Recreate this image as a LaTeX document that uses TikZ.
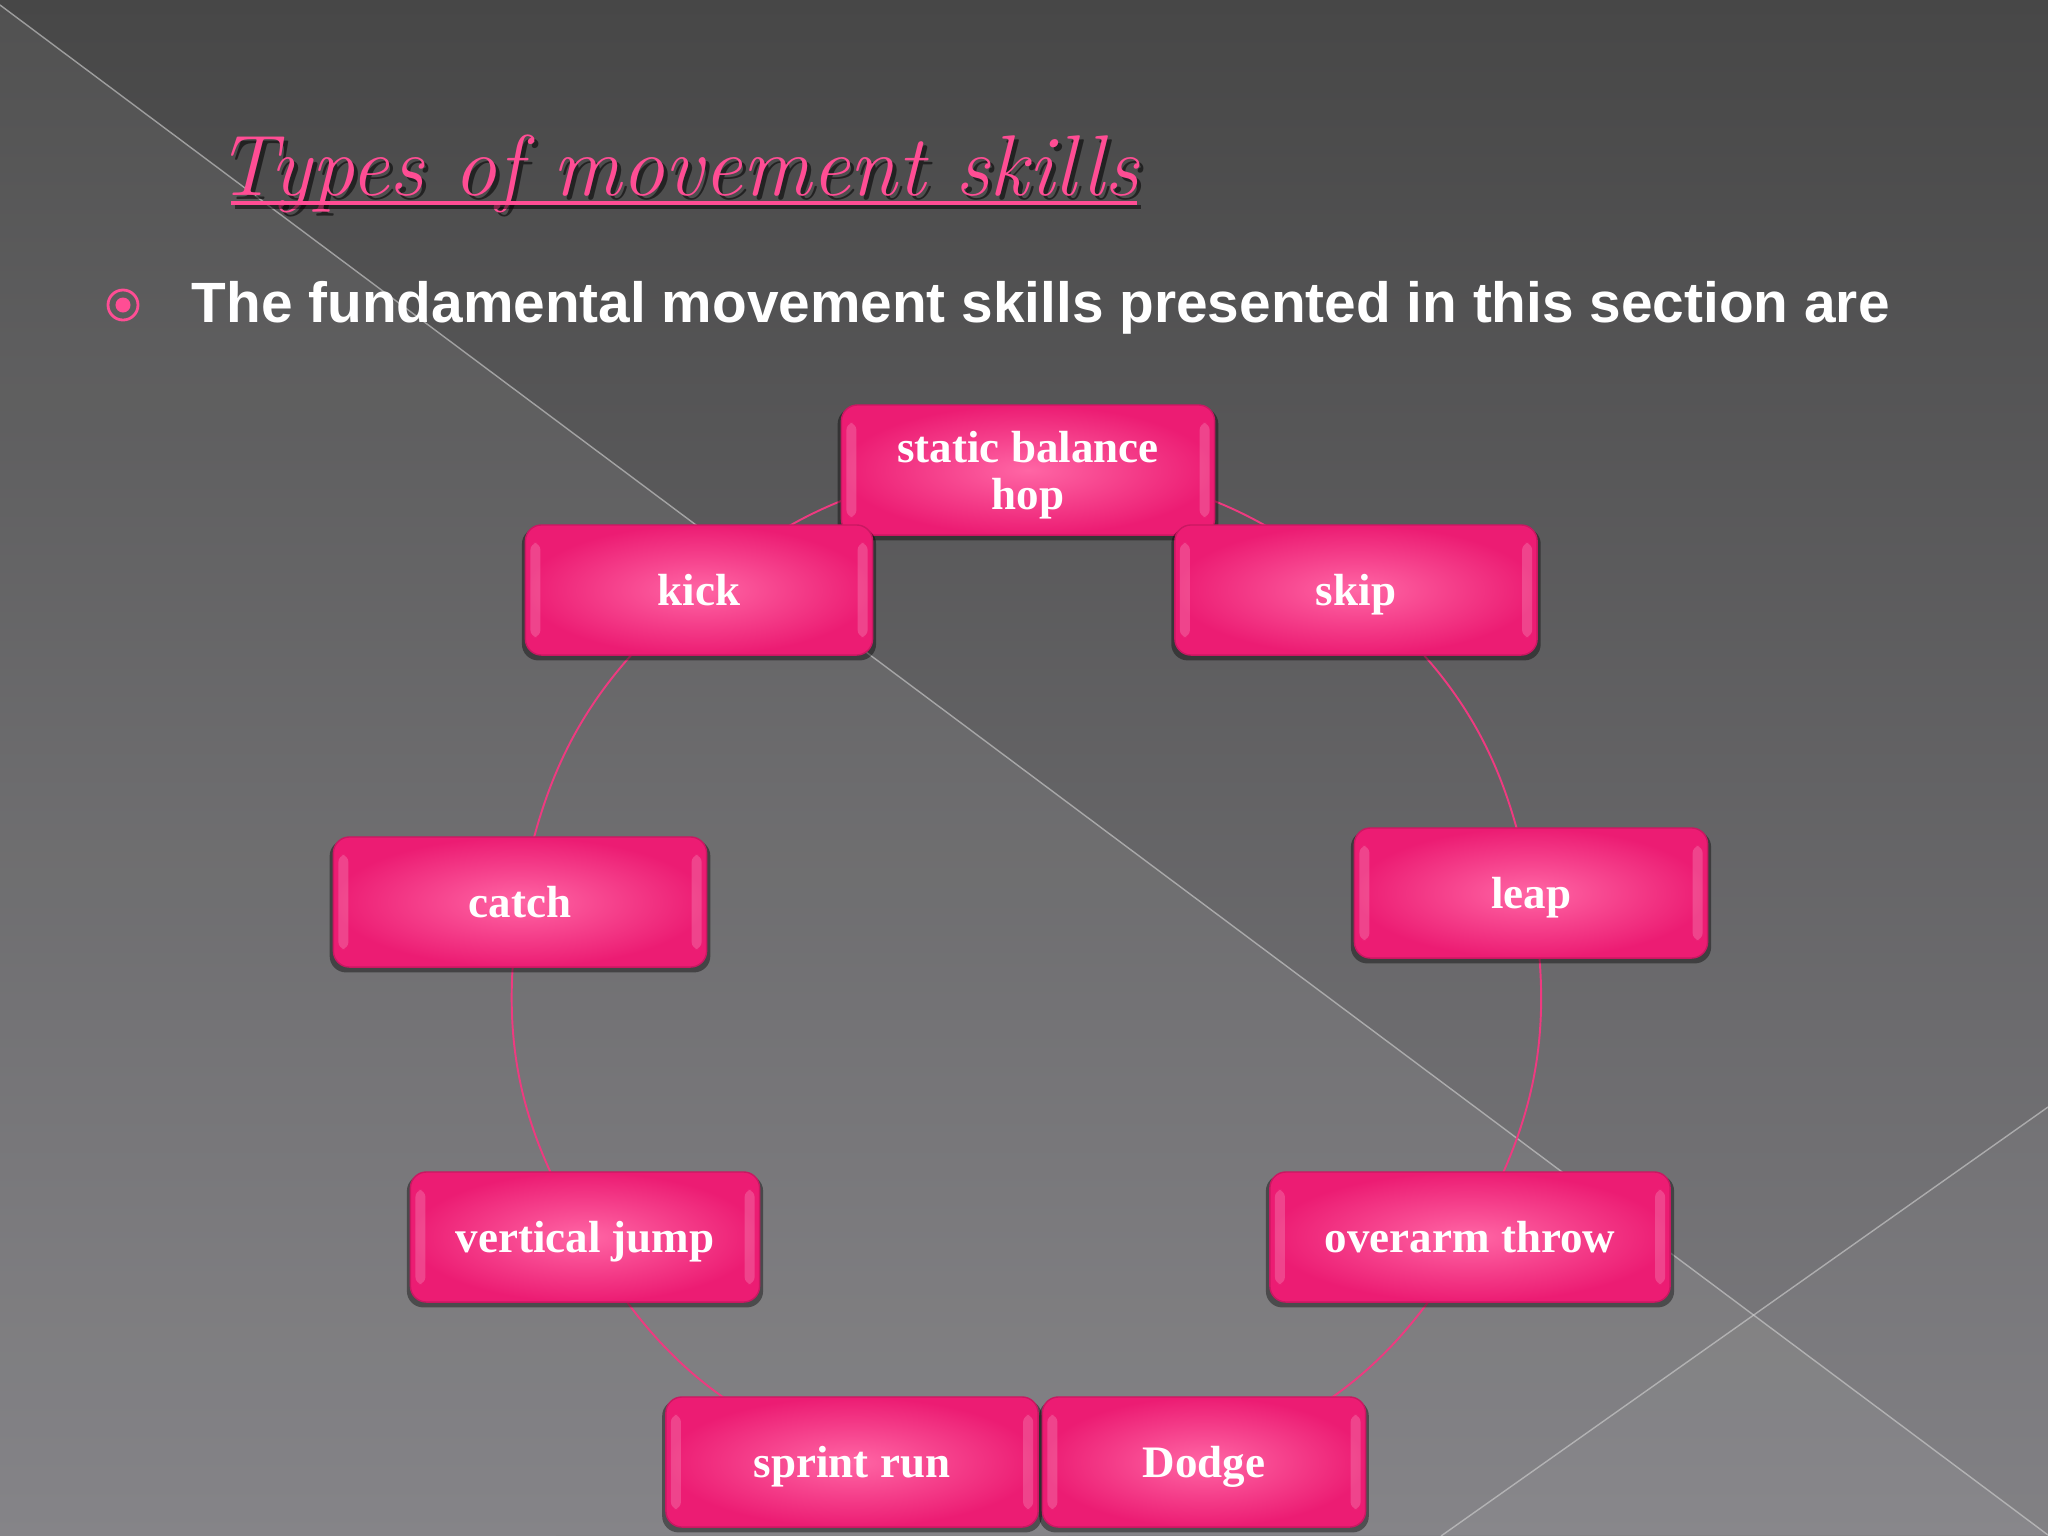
\documentclass[tikz,border=0pt]{standalone}
\usepackage{fontspec}
\usetikzlibrary{shadows}
\newfontfamily\skillfont{Liberation Serif}
\newfontfamily\bodyfont{Liberation Sans}
\definecolor{pinkhi}{HTML}{FF66A5}
\definecolor{pinkdk}{HTML}{EC1C73}
\definecolor{ringpink}{HTML}{EE3A80}
\definecolor{titlepink}{HTML}{FF4D94}
\definecolor{bgtop}{HTML}{474747}
\definecolor{bgbot}{HTML}{7E7D81}
\pgfdeclarelayer{back}
\pgfdeclarelayer{rings}
\pgfsetlayers{back,rings,main}
\tikzset{
    skill/.style={rounded corners=0.16cm, minimum height=1.3cm, inner color=pinkhi, outer color=pinkdk,
        draw=pinkdk!85!black, line width=0.4pt, text=white, align=center, text depth=0pt,
        font=\skillfont\bfseries\fontsize{12.8}{13.4}\selectfont,
        general shadow={fill=black, opacity=0.4, shadow yshift=-0.04cm, shadow scale=1.02},
        path picture={
            \fill[white, opacity=0.18, rounded corners=2pt] ([xshift=0.05cm,yshift=-0.18cm]path picture bounding box.north west) rectangle ([xshift=0.15cm,yshift=0.18cm]path picture bounding box.south west);
            \fill[white, opacity=0.18, rounded corners=2pt] ([xshift=-0.05cm,yshift=-0.18cm]path picture bounding box.north east) rectangle ([xshift=-0.15cm,yshift=0.18cm]path picture bounding box.south east);
        }},
    ring/.style={draw=ringpink, line width=0.55pt, bend right=20}
}
\begin{document}
\begin{tikzpicture}[x=0.01cm, y=-0.01cm]
    \useasboundingbox (0,0) rectangle (2048,1536);
    \begin{pgfonlayer}{back}
        \shade[top color=bgtop, bottom color=bgbot] (0,0) rectangle (2048,1536);
        \fill[white, opacity=0.06] (0,5) -- (2048,1535) -- (0,1536) -- cycle;
        \fill[white, opacity=0.03] (1441,1536) -- (2048,1107) -- (2048,1536) -- cycle;
        \draw[white!65!gray, opacity=0.6, line width=0.4pt] (0,5) -- (2048,1535);
        \draw[white!65!gray, opacity=0.6, line width=0.4pt] (2048,1107) -- (1441,1536);
    \end{pgfonlayer}

    \node[anchor=base west, inner sep=0, text=black, opacity=0.55, font=\fontsize{24.5}{28}\selectfont\itshape] (titleshadow) at (220,199) {Types of movement skills};
    \node[anchor=base west, inner sep=0, text=titlepink, font=\fontsize{24.5}{28}\selectfont\itshape] (title) at (216,195) {Types of movement skills};
    \draw[black, opacity=0.5, line width=0.035cm] ([xshift=0.19cm,yshift=-0.12cm]title.base west) -- ([xshift=0.02cm,yshift=-0.12cm]title.base east);
    \draw[titlepink, line width=0.035cm] ([xshift=0.15cm,yshift=-0.08cm]title.base west) -- ([xshift=-0.02cm,yshift=-0.08cm]title.base east);

    \node[circle, draw=titlepink, line width=0.8pt, minimum size=0.3cm, inner sep=0,
        path picture={\fill[titlepink] (path picture bounding box.center) circle (0.075cm);}] (bullet) at (123,305) {};
    \node[anchor=base west, inner sep=0, text=white, font=\bodyfont\bfseries\fontsize{16.15}{19}\selectfont] (intro) at (191,322) {The fundamental movement skills presented in this section are};

    \node[skill, minimum width=3.73cm] (static) at (1028,470) {static balance\\hop};
    \node[skill, minimum width=3.47cm] (kick) at (699,590) {kick};
    \node[skill, minimum width=3.62cm] (skip) at (1356,590) {skip};
    \node[skill, minimum width=3.73cm] (catch) at (520,902) {catch};
    \node[skill, minimum width=3.53cm] (leap) at (1531,893) {leap};
    \node[skill, minimum width=3.49cm] (vjump) at (585,1237) {vertical jump};
    \node[skill, minimum width=4.00cm] (overarm) at (1470,1237) {overarm throw};
    \node[skill, minimum width=3.72cm] (sprint) at (852,1462) {sprint run};
    \node[skill, minimum width=3.23cm] (dodge) at (1204,1462) {Dodge};

    \begin{pgfonlayer}{rings}
        \foreach \a/\b in {static/kick, kick/catch, catch/vjump, vjump/sprint, dodge/overarm, overarm/leap, leap/skip, skip/static}
            \draw[ring] (\a.center) to (\b.center);
    \end{pgfonlayer}
\end{tikzpicture}
\end{document}
